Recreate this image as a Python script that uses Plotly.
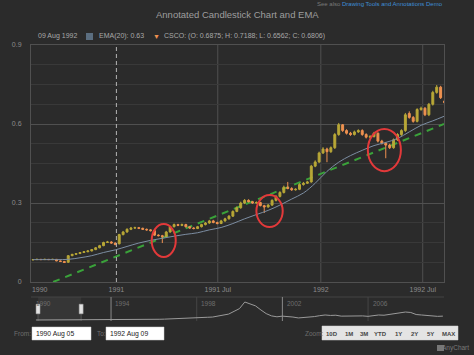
import plotly.graph_objects as go
import pandas as pd

# ---------------- data ----------------
first_week = "1990-08-05"
n_weeks = 106
week_dates = pd.date_range(first_week, periods=n_weeks, freq="7D")

open_ = [
    0.084, 0.085, 0.086, 0.085, 0.086, 0.085, 0.086, 0.080, 0.078, 0.075,
    0.100, 0.105, 0.108, 0.112, 0.115, 0.118, 0.123, 0.130, 0.138, 0.150,
    0.152, 0.148, 0.145, 0.180, 0.190, 0.200, 0.205, 0.206, 0.204, 0.200,
    0.198, 0.195, 0.178, 0.176, 0.172, 0.190, 0.210, 0.218, 0.215, 0.218,
    0.210, 0.205, 0.203, 0.210, 0.218, 0.224, 0.232, 0.226, 0.222, 0.232,
    0.240, 0.250, 0.268, 0.282, 0.300, 0.310, 0.305, 0.300, 0.302, 0.290,
    0.285, 0.292, 0.310, 0.325, 0.340, 0.360, 0.355, 0.350, 0.352, 0.370,
    0.375, 0.380, 0.440, 0.456, 0.490, 0.505, 0.495, 0.510, 0.560, 0.597,
    0.575, 0.565, 0.560, 0.570, 0.575, 0.560, 0.550, 0.552, 0.565, 0.535,
    0.527, 0.520, 0.510, 0.540, 0.560, 0.575, 0.640, 0.625, 0.610, 0.655,
    0.660, 0.635, 0.675, 0.720, 0.740, 0.6875,
]
high = [
    0.087, 0.088, 0.087, 0.088, 0.087, 0.088, 0.087, 0.082, 0.080, 0.102,
    0.107, 0.110, 0.114, 0.117, 0.120, 0.125, 0.133, 0.141, 0.153, 0.156,
    0.155, 0.150, 0.183, 0.194, 0.204, 0.209, 0.210, 0.209, 0.206, 0.203,
    0.200, 0.197, 0.181, 0.179, 0.194, 0.214, 0.222, 0.221, 0.222, 0.221,
    0.212, 0.208, 0.213, 0.221, 0.228, 0.236, 0.236, 0.229, 0.236, 0.244,
    0.254, 0.272, 0.287, 0.305, 0.315, 0.314, 0.308, 0.306, 0.304, 0.293,
    0.296, 0.314, 0.330, 0.345, 0.366, 0.380, 0.360, 0.356, 0.375, 0.380,
    0.384, 0.445, 0.462, 0.495, 0.512, 0.510, 0.515, 0.566, 0.604, 0.600,
    0.580, 0.570, 0.575, 0.580, 0.580, 0.565, 0.558, 0.570, 0.568, 0.540,
    0.532, 0.525, 0.545, 0.565, 0.580, 0.642, 0.648, 0.630, 0.660, 0.666,
    0.664, 0.680, 0.726, 0.748, 0.745, 0.7188,
]
low = [
    0.083, 0.084, 0.084, 0.084, 0.084, 0.084, 0.079, 0.076, 0.072, 0.073,
    0.098, 0.103, 0.106, 0.110, 0.113, 0.116, 0.121, 0.128, 0.136, 0.148,
    0.146, 0.140, 0.143, 0.177, 0.187, 0.197, 0.202, 0.201, 0.198, 0.195,
    0.192, 0.176, 0.173, 0.148, 0.170, 0.187, 0.207, 0.212, 0.212, 0.207,
    0.202, 0.200, 0.201, 0.207, 0.215, 0.221, 0.223, 0.219, 0.220, 0.229,
    0.237, 0.247, 0.265, 0.278, 0.296, 0.302, 0.297, 0.297, 0.287, 0.262,
    0.282, 0.289, 0.306, 0.321, 0.336, 0.352, 0.346, 0.347, 0.349, 0.366,
    0.372, 0.377, 0.436, 0.452, 0.486, 0.455, 0.490, 0.505, 0.555, 0.570,
    0.560, 0.555, 0.556, 0.566, 0.555, 0.545, 0.546, 0.549, 0.530, 0.522,
    0.470, 0.505, 0.506, 0.536, 0.555, 0.570, 0.620, 0.605, 0.606, 0.650,
    0.630, 0.630, 0.670, 0.715, 0.695, 0.6562,
]
close = [
    0.085, 0.086, 0.085, 0.086, 0.085, 0.086, 0.080, 0.078, 0.074, 0.100,
    0.105, 0.108, 0.112, 0.115, 0.118, 0.123, 0.130, 0.138, 0.150, 0.152,
    0.148, 0.142, 0.180, 0.190, 0.200, 0.205, 0.206, 0.204, 0.200, 0.198,
    0.195, 0.178, 0.176, 0.172, 0.190, 0.210, 0.218, 0.215, 0.218, 0.210,
    0.205, 0.203, 0.210, 0.218, 0.224, 0.232, 0.226, 0.222, 0.232, 0.240,
    0.250, 0.268, 0.282, 0.300, 0.310, 0.305, 0.300, 0.302, 0.290, 0.285,
    0.292, 0.310, 0.325, 0.340, 0.360, 0.355, 0.350, 0.352, 0.370, 0.375,
    0.380, 0.440, 0.456, 0.490, 0.505, 0.495, 0.510, 0.560, 0.597, 0.575,
    0.565, 0.560, 0.570, 0.575, 0.560, 0.550, 0.552, 0.565, 0.535, 0.527,
    0.520, 0.510, 0.540, 0.560, 0.575, 0.635, 0.625, 0.610, 0.655, 0.660,
    0.635, 0.675, 0.720, 0.740, 0.700, 0.6806,
]

# EMA(20) read every third week
ema_values = [
    0.085, 0.085, 0.085, 0.086, 0.092, 0.100, 0.112, 0.122, 0.135, 0.148,
    0.158, 0.166, 0.174, 0.181, 0.187, 0.198, 0.207, 0.222, 0.240, 0.256,
    0.272, 0.292, 0.315, 0.338, 0.375, 0.420, 0.455, 0.480, 0.500, 0.518,
    0.530, 0.545, 0.570, 0.595, 0.612, 0.630,
]
ema_dates = week_dates[::3]

# scroller (full history, quarterly)
scroll_dates = pd.date_range("1990-06-30", "2009-06-30", freq="QE")
scroll_values = [
    0.1, 0.1, 0.1,
    0.2, 0.25, 0.35, 0.45,
    0.55, 0.6, 0.7, 0.9,
    1.0, 0.9, 1.0, 1.1,
    1.0, 0.9, 1.1, 1.3,
    1.6, 2.0, 2.5, 2.8,
    3.2, 3.8, 4.5, 5.0,
    5.5, 6.5, 7.5, 8.0,
    10, 12, 13, 17,
    22, 26, 38, 50,
    79, 70, 62, 44,
    28, 18, 14, 17,
    16, 13, 9, 10,
    12, 15, 19, 22,
    20, 21, 17, 18,
    16, 17, 18, 16,
    20, 22, 21, 25,
    26, 30, 35, 33,
    24, 22, 20, 15,
    16, 17,
]
scroll_values = scroll_values[:len(scroll_dates)]

# annotations drawn on the chart
trend_start = ("1990-09-10", 0.0)
trend_end = ("1992-08-08", 0.60)
ellipses = [
    ("1991-03-05", "1991-04-17", 0.095, 0.220),
    ("1991-09-08", "1991-10-25", 0.209, 0.330),
    ("1992-03-25", "1992-05-23", 0.421, 0.581),
]
crosshair_date = "1991-01-01"

x_tick_vals = ["1990-08-17", "1991-01-01", "1991-07-01", "1992-01-01", "1992-07-01"]
x_tick_text = ["1990", "1991", "1991 Jul", "1992", "1992 Jul"]
x_grid_dates = ["1991-07-01", "1992-01-01", "1992-07-01"]
y_tick_vals = [0, 0.3, 0.6, 0.9]
y_tick_text = ["0", "0.3", "0.6", "0.9"]

scroll_grid_years = ["1994-01-01", "1998-01-01", "2002-01-01", "2006-01-01"]
scroll_grid_bright = [True, False, True, False]
scroll_labels = ["1990", "1994", "1998", "2002", "2006"]

zoom_buttons = ["10D", "1M", "3M", "YTD", "1Y", "2Y", "5Y", "MAX"]
zoom_button_px = [332, 349, 364, 380, 398, 414, 430, 448]

# ---------------- style ----------------
FONT = "Liberation Sans, Arial, sans-serif"
BG = "#2b2b2b"
GRID = "#505050"
MINOR = "#393939"
TXT = "#8c8c8c"
INC = "#b8a737"
DEC = "#ee9150"
EMA_C = "#7c8da2"

L, R, T, B = 31, 30, 45, 34
W, H = 474, 355
PW, PH = W - L - R, H - T - B


def px(x):
    return (x - L) / PW


def py(y):
    return (H - B - y) / PH


fig = go.Figure()

fig.add_trace(go.Candlestick(
    x=week_dates, open=open_, high=high, low=low, close=close,
    increasing=dict(fillcolor=INC, line=dict(color=INC, width=1)),
    decreasing=dict(fillcolor=DEC, line=dict(color=DEC, width=1)),
    whiskerwidth=0, xaxis="x", yaxis="y", hoverinfo="skip",
))
fig.add_trace(go.Scatter(
    x=ema_dates, y=ema_values, mode="lines", line=dict(color=EMA_C, width=1, shape="spline"),
    xaxis="x", yaxis="y", hoverinfo="skip",
))
fig.add_trace(go.Scatter(
    x=scroll_dates, y=scroll_values, mode="lines", line=dict(color="#9a9a9a", width=1),
    xaxis="x2", yaxis="y2", hoverinfo="skip",
))

shapes = []
# vertical grid lines main
for d in x_grid_dates:
    shapes.append(dict(type="line", xref="x", yref="y domain", x0=d, x1=d, y0=0, y1=1,
                       line=dict(color=GRID, width=1), layer="below"))
# crosshair dashed line
shapes.append(dict(type="line", xref="x", yref="y domain", x0=crosshair_date, x1=crosshair_date,
                   y0=0, y1=1, line=dict(color="#b5b5b5", width=1, dash="4px,3px"), layer="above"))
# trend line
shapes.append(dict(type="line", xref="x", yref="y", x0=trend_start[0], y0=trend_start[1],
                   x1=trend_end[0], y1=trend_end[1],
                   line=dict(color="#3aa23a", width=2, dash="7px,6px"), layer="between"))
# ellipses
for x0, x1, y0, y1 in ellipses:
    shapes.append(dict(type="circle", xref="x", yref="y", x0=x0, x1=x1, y0=y0, y1=y1,
                       line=dict(color="#e2393a", width=2), layer="above"))

# scroller
shapes.append(dict(type="rect", xref="x2", yref="y2 domain", x0=week_dates[0], x1=week_dates[-1],
                   y0=0, y1=1, fillcolor="#363636", line=dict(width=0), layer="below"))
shapes.append(dict(type="line", xref="paper", yref="y2 domain", x0=0, x1=1, y0=1, y1=1,
                   line=dict(color="#444444", width=1), layer="below"))
for d, bright in zip(scroll_grid_years, scroll_grid_bright):
    shapes.append(dict(type="line", xref="x2", yref="y2 domain", x0=d, x1=d, y0=0, y1=1,
                       line=dict(color="#8a8a8a" if bright else "#464646", width=1), layer="below"))
for d in (week_dates[0], week_dates[-1]):
    shapes.append(dict(type="line", xref="x2", yref="y2 domain", x0=d, x1=d, y0=0, y1=0.7,
                       line=dict(color="#555555", width=1), layer="below"))
    shapes.append(dict(type="rect", xref="x2", xsizemode="pixel", xanchor=d, x0=-2, x1=2,
                       yref="y2 domain", y0=0.3, y1=0.7, fillcolor="#e2e2e2",
                       line=dict(color="#9a9a9a", width=0.5), layer="above"))

# legend square icon
shapes.append(dict(type="rect", xref="paper", yref="paper", x0=px(86), x1=px(93), y0=py(40), y1=py(33),
                   fillcolor="#5b6e80", line=dict(width=0)))
# input boxes
for x0, x1 in ((32, 91), (106, 164)):
    shapes.append(dict(type="rect", xref="paper", yref="paper", x0=px(x0), x1=px(x1),
                       y0=py(340), y1=py(327), fillcolor="#ffffff", line=dict(color="#cccccc", width=0.5)))
# zoom buttons group
shapes.append(dict(type="rect", xref="paper", yref="paper", x0=px(322), x1=px(458),
                   y0=py(340), y1=py(326), fillcolor="#e4e4e4", line=dict(color="#d0d0d0", width=0.5)))
# AnyChart icon
shapes.append(dict(type="rect", xref="paper", yref="paper", x0=px(437), x1=px(444),
                   y0=py(351), y1=py(345), fillcolor="#777777", line=dict(width=0)))

annotations = []


def text(x, y, s, size=7, color=TXT, anchor="left", bold=False):
    if bold:
        s = "<b>" + s + "</b>"
    annotations.append(dict(xref="paper", yref="paper", x=px(x), y=py(y), text=s, showarrow=False,
                            xanchor=anchor, yanchor="middle",
                            font=dict(family=FONT, size=size, color=color)))


text(237.5, 15, "Annotated Candlestick Chart and EMA", size=9.5, color="#9e9e9e", anchor="center")
annotations.append(dict(xref="paper", yref="paper", x=px(445), y=py(4.5), showarrow=False,
                        xanchor="right", yanchor="middle",
                        text="See also <span style='color:#3f8fd6'>Drawing Tools and Annotations Demo</span>",
                        font=dict(family=FONT, size=6, color="#7a7a7a")))
text(36, 36, "09 Aug 1992", color="#a8a8a8")
text(97, 36, "EMA(20): 0.63", color="#a8a8a8")
text(151, 36, "▼", size=7, color=DEC)
text(162, 36, "CSCO: (O: 0.6875; H: 0.7188; L: 0.6562; C: 0.6806)", color="#a8a8a8")

scroll_label_px = [34, 113, 199, 285, 371]
for lab, x in zip(scroll_labels, scroll_label_px):
    text(x, 303, lab, size=6.5, color="#6e6e6e")

text(12, 333, "From:", size=6.5, color="#6e6e6e")
text(34, 333.5, "1990 Aug 05", size=6.8, color="#222222")
text(95, 333, "To:", size=6.5, color="#6e6e6e")
text(108, 333.5, "1992 Aug 09", size=6.8, color="#222222")
text(303, 333, "Zoom:", size=6.5, color="#6e6e6e")
for lab, x in zip(zoom_buttons, zoom_button_px):
    text(x, 333.5, lab, size=6, color="#444444", anchor="center", bold=True)
text(471, 348, "AnyChart", size=6.5, color="#7a7a7a", anchor="right")

fig.update_layout(
    width=W, height=H,
    margin=dict(l=L, r=R, t=T, b=B, pad=0),
    paper_bgcolor=BG, plot_bgcolor=BG,
    showlegend=False,
    font=dict(family=FONT, size=7, color=TXT),
    xaxis=dict(domain=[0, 1], anchor="y", type="date",
               range=["1990-08-01 12:00", "1992-08-08"],
               rangeslider=dict(visible=False), showgrid=False, zeroline=False,
               tickmode="array", tickvals=x_tick_vals, ticktext=x_tick_text, ticks="",
               tickfont=dict(size=7, color=TXT), showline=True, linecolor=GRID, mirror=True,
               ticklabelstandoff=1),
    yaxis=dict(domain=[py(282), 1], anchor="x", range=[0, 0.9],
               tickmode="array", tickvals=y_tick_vals, ticktext=y_tick_text, ticks="",
               showgrid=True, gridcolor=GRID, gridwidth=1,
               minor=dict(tickmode="linear", tick0=0, dtick=0.075, showgrid=True, gridcolor=MINOR, ticks=""),
               zeroline=False, showline=True, linecolor=GRID, mirror=True,
               tickfont=dict(size=7, color=TXT), ticklabelstandoff=7),
    xaxis2=dict(domain=[0, 1], anchor="y2", type="date", range=["1990-04-07", "2009-07-19"],
                showgrid=False, showticklabels=False, zeroline=False, showline=False, ticks=""),
    yaxis2=dict(domain=[0, py(297)], anchor="x2", range=[-4.4, 101],
                showgrid=False, showticklabels=False, zeroline=False, showline=False, ticks=""),
    shapes=shapes,
    annotations=annotations,
)

fig.write_html(
    "out.html",
    config={"displayModeBar": False},
    post_script="document.body.style.margin='0';document.body.style.background='#2b2b2b';",
)
